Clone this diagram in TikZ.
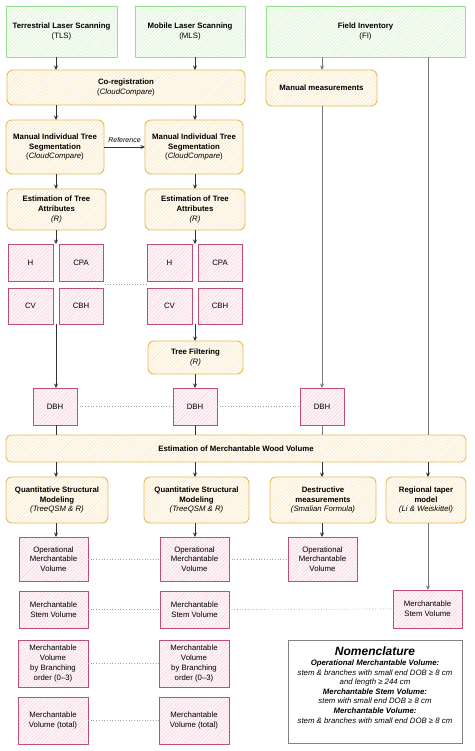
\documentclass[tikz,border=0pt]{standalone}
\usepackage{fontspec}
\setmainfont{Liberation Sans}
\usetikzlibrary{patterns.meta,arrows.meta,shadows,calc}
\definecolor{gline}{RGB}{150,225,140}
\definecolor{gfill}{RGB}{246,253,244}
\definecolor{ghatch}{RGB}{212,240,206}
\definecolor{oline}{RGB}{230,188,85}
\definecolor{ofill}{RGB}{255,251,242}
\definecolor{ohatch}{RGB}{246,228,190}
\definecolor{pline}{RGB}{192,78,110}
\definecolor{pfill}{RGB}{253,245,248}
\definecolor{phatch}{RGB}{244,204,216}
\definecolor{linec}{RGB}{50,50,50}
\definecolor{linegray}{RGB}{120,120,120}
\definecolor{dotc}{RGB}{150,165,150}
\definecolor{nline}{RGB}{130,130,130}
\tikzset{
  base/.style={draw, line width=0.9pt, inner sep=1pt, outer sep=0pt, align=center,
    font=\fontsize{7.8}{9.7}\selectfont},
  gbox/.style={base, draw=gline, preaction={fill=gfill},
    pattern={Lines[angle=45,distance=2.6pt,line width=0.4pt]}, pattern color=ghatch},
  obox/.style={base, rounded corners=6pt, draw=oline, preaction={fill=ofill},
    pattern={Lines[angle=45,distance=2.6pt,line width=0.4pt]}, pattern color=ohatch},
  pbox/.style={base, draw=pline, preaction={fill=pfill},
    pattern={Lines[angle=45,distance=2.6pt,line width=0.4pt]}, pattern color=phatch},
  arr/.style={draw=linec, line width=0.7pt, -{Stealth[length=4.5pt,width=4pt]}},
  garr/.style={draw=linegray, line width=0.7pt, -{Stealth[length=4.5pt,width=4pt]}},
  ln/.style={draw=linec, line width=0.7pt},
  gln/.style={draw=linegray, line width=0.7pt},
  dotln/.style={draw=dotc, line width=0.7pt, dotted},
}
\begin{document}
\begin{tikzpicture}[x=1pt,y=-1pt]
\useasboundingbox (0,0) rectangle (474,751);
% column coordinates
\coordinate (c1) at (56,0);
\coordinate (c2) at (195,0);
\coordinate (c3) at (322,0);
\coordinate (c4) at (428,0);

% sources
\node[gbox, minimum width=111pt, minimum height=51pt] (TLS) at (61.5,31.5)
  {\textbf{Terrestrial Laser Scanning}\\(TLS)};
\node[gbox, minimum width=110pt, minimum height=51pt] (MLS) at (190,31.5)
  {\textbf{Mobile Laser Scanning}\\(MLS)};
\node[gbox, minimum width=199pt, minimum height=51pt] (FI) at (365.5,31.5)
  {\textbf{Field Inventory}\\(FI)};

% processing
\node[obox, minimum width=238pt, minimum height=35pt] (CoReg) at (126,87.5)
  {\textbf{Co-registration}\\(\textit{CloudCompare})};
\node[obox, minimum width=111pt, minimum height=36pt] (ManMeas) at (321.5,88)
  {\textbf{Manual measurements}};
\node[obox, minimum width=98pt, minimum height=54pt] (MITSa) at (55,147)
  {\textbf{Manual Individual Tree}\\\textbf{Segmentation}\\(\textit{CloudCompare})};
\node[obox, minimum width=98pt, minimum height=54pt] (MITSb) at (194,147)
  {\textbf{Manual Individual Tree}\\\textbf{Segmentation}\\(\textit{CloudCompare})};
\node[obox, minimum width=99pt, minimum height=41pt] (ETAa) at (56.5,209.5)
  {\textbf{Estimation of Tree}\\\textbf{Attributes}\\\textit{(R)}};
\node[obox, minimum width=100pt, minimum height=41pt] (ETAb) at (195,209.5)
  {\textbf{Estimation of Tree}\\\textbf{Attributes}\\\textit{(R)}};

% attributes
\node[pbox, minimum width=45pt, minimum height=37pt] (Ha) at (30.5,262.5) {H};
\node[pbox, minimum width=44pt, minimum height=37pt] (CPAa) at (81,262.5) {CPA};
\node[pbox, minimum width=45pt, minimum height=36pt] (CVa) at (30.5,306) {CV};
\node[pbox, minimum width=44pt, minimum height=36pt] (CBHa) at (81,306) {CBH};
\node[pbox, minimum width=45pt, minimum height=37pt] (Hb) at (169.5,262.5) {H};
\node[pbox, minimum width=44pt, minimum height=37pt] (CPAb) at (220,262.5) {CPA};
\node[pbox, minimum width=45pt, minimum height=36pt] (CVb) at (169.5,306) {CV};
\node[pbox, minimum width=44pt, minimum height=36pt] (CBHb) at (220,306) {CBH};

\node[obox, minimum width=95pt, minimum height=33pt] (TF) at (195.5,357.5)
  {\textbf{Tree Filtering}\\\textit{(R)}};

\node[pbox, minimum width=44pt, minimum height=37pt] (DBHa) at (55,406.5) {DBH};
\node[pbox, minimum width=44pt, minimum height=37pt] (DBHb) at (195,406.5) {DBH};
\node[pbox, minimum width=44pt, minimum height=37pt] (DBHc) at (322,406.5) {DBH};

\node[obox, rounded corners=5pt, minimum width=460pt, minimum height=27pt] (EMWV) at (236,448.5)
  {\textbf{Estimation of Merchantable Wood Volume}};

\node[obox, minimum width=102pt, minimum height=46pt] (QSMa) at (57,500)
  {\textbf{Quantitative Structural}\\\textbf{Modeling}\\\textit{(TreeQSM \& R)}};
\node[obox, minimum width=105pt, minimum height=46pt] (QSMb) at (196.5,500)
  {\textbf{Quantitative Structural}\\\textbf{Modeling}\\\textit{(TreeQSM \& R)}};
\node[obox, minimum width=106pt, minimum height=46pt] (Dest) at (323,500)
  {\textbf{Destructive}\\\textbf{measurements}\\\textit{(Smalian Formula)}};
\node[obox, minimum width=80pt, minimum height=46pt] (Reg) at (426,500)
  {\textbf{Regional taper}\\\textbf{model}\\\textit{(Li \& Weiskittel)}};

% outputs
\node[pbox, minimum width=69pt, minimum height=44pt] (OMVa) at (53.5,559)
  {Operational\\Merchantable\\Volume};
\node[pbox, minimum width=69pt, minimum height=44pt] (OMVb) at (194.5,559)
  {Operational\\Merchantable\\Volume};
\node[pbox, minimum width=69pt, minimum height=44pt] (OMVc) at (322.5,559)
  {Operational\\Merchantable\\Volume};
\node[pbox, minimum width=69pt, minimum height=37pt] (MSVa) at (53.5,609.5)
  {Merchantable\\Stem Volume};
\node[pbox, minimum width=69pt, minimum height=37pt] (MSVb) at (194.5,609.5)
  {Merchantable\\Stem Volume};
\node[pbox, minimum width=69pt, minimum height=38pt] (MSVc) at (427.5,609)
  {Merchantable\\Stem Volume};
\node[pbox, minimum width=70pt, minimum height=47pt] (MVBOa) at (53,663.5)
  {Merchantable\\Volume\\by Branching\\order (0–3)};
\node[pbox, minimum width=70pt, minimum height=47pt] (MVBOb) at (194,663.5)
  {Merchantable\\Volume\\by Branching\\order (0–3)};
\node[pbox, minimum width=70pt, minimum height=47pt] (MVTa) at (53,720.5)
  {Merchantable\\Volume (total)};
\node[pbox, minimum width=70pt, minimum height=47pt] (MVTb) at (194,720.5)
  {Merchantable\\Volume (total)};

% nomenclature
\node[draw=nline, line width=1pt, fill=white, minimum width=174pt, minimum height=103pt,
  outer sep=0pt, drop shadow={opacity=0.35, shadow xshift=1.2pt, shadow yshift=-1.2pt}]
  (NomBox) at (375,691.5) {};
\node[anchor=north, align=center, inner sep=0pt, font=\fontsize{7.8}{9.6}\selectfont\itshape]
  (Nom) at ($(NomBox.north)+(0,7)$)
  {{\fontsize{12}{13}\selectfont\bfseries Nomenclature}\\
   \textbf{Operational Merchantable Volume:}\\
   stem \& branches with small end DOB ≥ 8 cm\\
   and length ≥ 244 cm\\
   \textbf{Merchantable Stem Volume:}\\
   stem with small end DOB ≥ 8 cm\\
   \textbf{Merchantable Volume:}\\
   stem \& branches with small end DOB ≥ 8 cm};

% connectors
\draw[arr] (TLS.south -| c1) -- (CoReg.north -| c1);
\draw[arr] (MLS.south -| c2) -- (CoReg.north -| c2);
\draw[garr] (FI.south -| c3) -- (ManMeas.north -| c3);
\draw[gln] (FI.south -| c4) -- (EMWV.north -| c4);
\draw[arr] (CoReg.south -| c1) -- (MITSa.north -| c1);
\draw[arr] (CoReg.south -| c2) -- (MITSb.north -| c2);
\draw[arr] (MITSa.east) -- node[above, font=\fontsize{7}{8}\selectfont\itshape, yshift=1pt] {Reference} (MITSb.west);
\draw[arr] (MITSa.south -| c1) -- (ETAa.north -| c1);
\draw[arr] (MITSb.south -| c2) -- (ETAb.north -| c2);
\draw[arr] (ETAa.south -| c1) -- (Ha.north -| c1);
\draw[arr] (ETAb.south -| c2) -- (Hb.north -| c2);
\draw[dotln] ($(CPAa.south east)!0.5!(CBHa.north east)+(2,0)$) -- ($(Hb.south west)!0.5!(CVb.north west)+(-1,0)$);
\draw[arr] (CVa.south -| c1) -- (DBHa.north -| c1);
\draw[arr] (CVb.south -| c2) -- (TF.north -| c2);
\draw[arr] (TF.south -| c2) -- (DBHb.north -| c2);
\draw[garr] (ManMeas.south -| c3) -- (DBHc.north -| c3);
\draw[dotln] (DBHa.east) -- (DBHb.west);
\draw[dotln] (DBHb.east) -- (DBHc.west);
\draw[ln] (DBHa.south -| c1) -- (EMWV.north -| c1);
\draw[ln] (DBHb.south -| c2) -- (EMWV.north -| c2);
\draw[gln] (DBHc.south -| c3) -- (EMWV.north -| c3);
\draw[arr] (EMWV.south -| c1) -- (QSMa.north -| c1);
\draw[arr] (EMWV.south -| c2) -- (QSMb.north -| c2);
\draw[arr] (EMWV.south -| c3) -- (Dest.north -| c3);
\draw[arr] (EMWV.south -| c4) -- (Reg.north -| c4);
\draw[arr] (QSMa.south -| c1) -- (OMVa.north -| c1);
\draw[arr] (QSMb.south -| c2) -- (OMVb.north -| c2);
\draw[arr] (Dest.south -| c3) -- (OMVc.north -| c3);
\draw[garr] (Reg.south -| c4) -- (MSVc.north -| c4);
\draw[dotln] (OMVa.east) -- (OMVb.west);
\draw[dotln] (OMVb.east) -- (OMVc.west);
\draw[dotln] (MSVa.east) -- (MSVb.west);
\draw[dotln] (MSVb.east) -- (MSVc.west);
\draw[dotln] (MVBOa.east) -- (MVBOb.west);
\draw[dotln] (MVTa.east) -- (MVTb.west);
\end{tikzpicture}
\end{document}
